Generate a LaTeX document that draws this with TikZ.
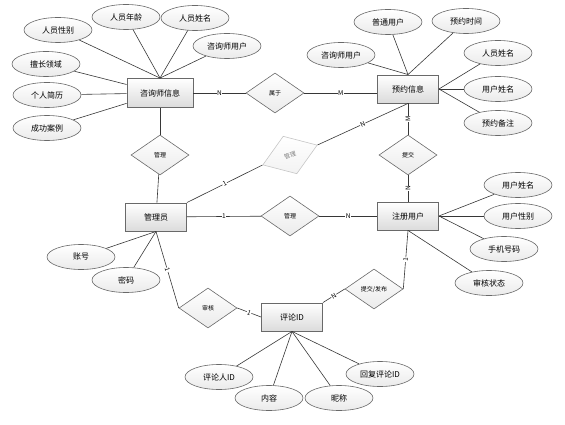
\documentclass[tikz,border=0pt]{standalone}
\usepackage{fontspec}
\newfontfamily\cjk{Noto Sans CJK SC}
\usetikzlibrary{shapes.geometric}
\definecolor{LineGray}{RGB}{55,55,55}
\definecolor{EdgeGray}{RGB}{105,105,105}

\begin{document}
\begin{tikzpicture}[x=1pt, y=-1pt, font=\cjk\fontsize{8}{9}\selectfont, ent/.style={draw=EdgeGray, line width=0.9pt, top color=white, bottom color=gray!28, minimum width=61pt, minimum height=28pt, inner sep=1pt}, attr/.style={ellipse, draw=EdgeGray, line width=0.6pt, top color=white, bottom color=gray!16, minimum width=68pt, minimum height=25pt, inner sep=0pt}, rel/.style={diamond, draw=EdgeGray, line width=0.6pt, top color=white, bottom color=gray!16, minimum width=58pt, minimum height=40pt, inner sep=0pt, font=\cjk\fontsize{6}{7}\selectfont}, ln/.style={draw=LineGray, line width=0.6pt}, card/.style={fill=white, inner sep=0.5pt, font=\cjk\fontsize{6.5}{7}\selectfont}]
\useasboundingbox (0,0) rectangle (565,425);
% entities
\node[ent, minimum width=66pt, minimum height=29pt] (zxs) at (160,93) {咨询师信息};
\node[ent] (yy) at (408,89) {预约信息};
\node[ent] (gly) at (156,217) {管理员};
\node[ent] (zc) at (408,216) {注册用户};
\node[ent] (pl) at (292,317) {评论ID};
% relations
\node[rel] (sy) at (275,93) {属于};
\node[rel] (gl1) at (160,155) {管理};
\node[rel, draw=gray!45, text=gray, bottom color=gray!10, rotate=20] (gl2) at (290,155) {管理};
\node[rel] (gl3) at (290,216) {管理};
\node[rel] (tj) at (408,155) {提交};
\node[rel] (sh) at (208,308) {审核};
\node[rel] (tjfb) at (374,289) {提交/发布};
% attributes
\node[attr] (zx1) at (58,30) {人员性别};
\node[attr] (zx2) at (126,17) {人员年龄};
\node[attr] (zx3) at (195,18) {人员姓名};
\node[attr] (zx4) at (227,46) {咨询师用户};
\node[attr] (zx5) at (46,64) {擅长领域};
\node[attr] (zx6) at (47,95) {个人简历};
\node[attr] (zx7) at (47,128) {成功案例};
\node[attr] (yy1) at (341,55) {咨询师用户};
\node[attr] (yy2) at (388,22) {普通用户};
\node[attr] (yy3) at (466,21) {预约时间};
\node[attr] (yy4) at (498,53) {人员姓名};
\node[attr] (yy5) at (498,89) {用户姓名};
\node[attr] (yy6) at (498,123) {预约备注};
\node[attr] (zc1) at (518,185) {用户姓名};
\node[attr] (zc2) at (518,216) {用户性别};
\node[attr] (zc3) at (504,249) {手机号码};
\node[attr] (zc4) at (489,283) {审核状态};
\node[attr] (gly1) at (81,257) {账号};
\node[attr] (gly2) at (126,280) {密码};
\node[attr] (pl1) at (219,377) {评论人ID};
\node[attr] (pl2) at (269,398) {内容};
\node[attr] (pl3) at (339,398) {昵称};
\node[attr] (pl4) at (380,374) {回复评论ID};
% attribute links
\draw[ln] (zxs.north) -- (zx1); \draw[ln] (zxs.north) -- (zx2); \draw[ln] (zxs.north) -- (zx3); \draw[ln] (zxs.north) -- (zx4);
\draw[ln] (zxs) -- (zx5); \draw[ln] (zxs) -- (zx6); \draw[ln] (zxs) -- (zx7);
\draw[ln] (yy.north) -- (yy1); \draw[ln] (yy.north) -- (yy2); \draw[ln] (yy.north) -- (yy3);
\draw[ln] (yy.east) -- (yy4); \draw[ln] (yy.east) -- (yy5); \draw[ln] (yy.east) -- (yy6);
\draw[ln] (zc.east) -- (zc1); \draw[ln] (zc.east) -- (zc2); \draw[ln] (zc.east) -- (zc3); \draw[ln] (zc.south) -- (zc4);
\draw[ln] (gly.south) -- (gly1); \draw[ln] (gly.south) -- (gly2);
\draw[ln] (pl.south) -- (pl1); \draw[ln] (pl.south) -- (pl2); \draw[ln] (pl.south) -- (pl3); \draw[ln] (pl.south) -- (pl4);
% relation links
\draw[ln] (zxs) -- (sy) node[card, midway] {N};
\draw[ln] (sy.east) -- (sy.east -| yy.west) node[card, midway] {M};
\draw[ln] (zxs) -- (gl1); \draw[ln] (gl1) -- (gly);
\draw[ln] (gly.north east) -- (gl2.west) node[card, midway, sloped] {1};
\draw[ln] (gl2.east) -- (yy.south) node[card, midway, sloped] {N};
\draw[ln] (yy.south) -- (tj) node[card, midway, rotate=90] {M};
\draw[ln] (tj) -- (zc) node[card, midway, rotate=90] {N};
\draw[ln] (gly) -- (gl3) node[card, midway] {1};
\draw[ln] (gl3) -- (zc) node[card, midway] {N};
\draw[ln] (gly.south) -- (sh.west) node[card, midway, sloped] {1};
\draw[ln] (sh.east) -- (pl.west) node[card, midway, sloped] {1};
\draw[ln] (pl.north east) -- (tjfb.west) node[card, midway, sloped] {N};
\draw[ln] (tjfb.east) -- (zc.south) node[card, midway, sloped] {1};
\end{tikzpicture}
\end{document}
